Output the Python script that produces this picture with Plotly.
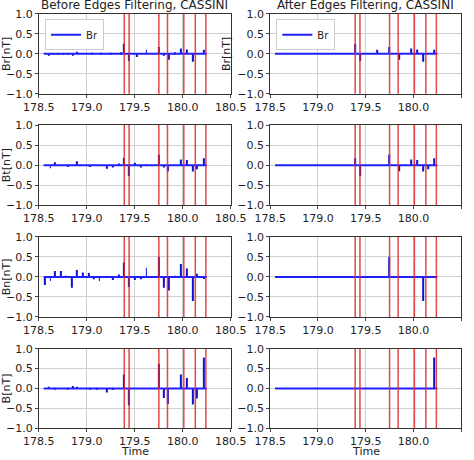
import plotly.graph_objects as go

t_start, t_end = 178.55, 180.25
edges = [179.39, 179.44, 179.75, 179.84, 180.01, 180.13, 180.24]

br_t = [178.6, 178.65, 178.7, 178.75, 178.8, 178.85, 178.9, 179.05, 179.15, 179.25, 179.35, 179.39, 179.44, 179.52, 179.62, 179.75, 179.8, 179.85, 179.92, 179.98, 180.04, 180.1, 180.22]
br_v = [-0.03, -0.02, -0.02, -0.02, -0.02, -0.04, 0.05, 0.02, 0.02, 0.02, 0.04, 0.25, -0.18, -0.08, 0.1, 0.17, -0.05, -0.15, 0.04, 0.13, 0.11, -0.2, 0.1]
bt_t = [178.62, 178.67, 178.8, 178.9, 179.03, 179.21, 179.27, 179.33, 179.39, 179.44, 179.5, 179.56, 179.62, 179.75, 179.8, 179.84, 179.98, 180.04, 180.1, 180.15, 180.22]
bt_v = [-0.08, 0.07, -0.04, 0.1, -0.04, -0.09, -0.06, 0.04, 0.18, -0.27, 0.06, -0.06, 0.03, 0.26, -0.06, -0.15, 0.14, 0.13, -0.16, -0.1, 0.17]
bn_t = [178.56, 178.62, 178.67, 178.73, 178.78, 178.84, 178.9, 178.96, 179.02, 179.07, 179.13, 179.27, 179.33, 179.39, 179.44, 179.5, 179.56, 179.62, 179.75, 179.8, 179.85, 179.92, 179.98, 180.04, 180.1, 180.15, 180.22]
bn_v = [-0.2, -0.1, 0.15, 0.15, 0.03, -0.27, 0.17, 0.11, 0.1, -0.06, -0.1, -0.08, 0.06, 0.36, -0.25, -0.08, -0.06, 0.23, 0.5, -0.27, -0.34, 0.03, 0.32, 0.21, -0.6, 0.08, -0.03]
b_t = [178.6, 178.67, 178.8, 178.85, 178.9, 179.03, 179.1, 179.21, 179.27, 179.39, 179.44, 179.75, 179.8, 179.84, 179.98, 180.04, 180.1, 180.15, 180.22]
b_v = [0.02, -0.02, -0.02, 0.06, 0.03, -0.02, -0.02, -0.1, -0.04, 0.35, -0.42, 0.62, -0.24, -0.39, 0.35, 0.26, -0.4, -0.25, 0.78]

fbr_t = [179.39, 179.44, 179.62, 179.75, 179.85, 179.98, 180.04, 180.1, 180.22]
fbr_v = [0.25, -0.18, 0.1, 0.17, -0.15, 0.13, 0.11, -0.2, 0.1]
fbt_t = [179.39, 179.44, 179.75, 179.85, 179.98, 180.04, 180.1, 180.15, 180.22]
fbt_v = [0.17, -0.27, 0.26, -0.15, 0.14, 0.13, -0.16, -0.1, 0.17]
fbn_t = [179.75, 180.1]
fbn_v = [0.5, -0.6]
fb_t = [180.22]
fb_v = [0.78]

left = [(br_t, br_v, "Br[nT]"), (bt_t, bt_v, "Bt[nT]"), (bn_t, bn_v, "Bn[nT]"), (b_t, b_v, "B[nT]")]
right = [(fbr_t, fbr_v), (fbt_t, fbt_v), (fbn_t, fbn_v), (fb_t, fb_v)]

xdom = [[0.082, 0.487], [0.570, 0.973]]
ydom = [[0.796, 0.970], [0.554, 0.728], [0.311, 0.485], [0.069, 0.242]]

fig = go.Figure()
layout = {}
shapes = []
n = 0
for r in range(4):
    for c in range(2):
        n += 1
        xa = "x" if n == 1 else f"x{n}"
        ya = "y" if n == 1 else f"y{n}"
        if c == 0:
            tt, vv, lab = left[r]
        else:
            tt, vv = right[r]
            lab = "Br[nT]" if r == 0 else ""
        leg = "legend" if c == 0 else "legend2"
        fig.add_trace(go.Scatter(x=[t_start, t_end], y=[0, 0], mode="lines",
                                 line=dict(color="#2020ff", width=2), name="Br",
                                 showlegend=(r == 0), legend=leg, xaxis=xa, yaxis=ya))
        fig.add_trace(go.Bar(x=tt, y=vv, width=0.009, marker=dict(color="#1010d0", line=dict(width=0)),
                             showlegend=False, xaxis=xa, yaxis=ya))
        for e in edges:
            shapes.append(dict(type="line", xref=xa, yref=f"{ya} domain", x0=e, x1=e, y0=0, y1=1,
                               line=dict(color="rgba(220,40,40,0.85)", width=1.5)))
        ax = dict(domain=xdom[c], range=[178.5, 180.5], dtick=0.5, tickformat=".1f", automargin=False,
                  showgrid=True, gridcolor="#d0d0d0", zeroline=False, showline=True, mirror=True,
                  linecolor="#333", ticks="outside", ticklen=3, anchor=ya,
                  tickfont=dict(size=11, color="#222"))
        ayd = dict(domain=ydom[r], range=[-1, 1], dtick=0.5, tickformat=".1f", automargin=False,
                   showgrid=True, gridcolor="#d0d0d0", zeroline=False, showline=True, mirror=True,
                   linecolor="#333", ticks="outside", ticklen=3, anchor=xa,
                   tickfont=dict(size=11, color="#222"),
                   title=dict(text=lab, font=dict(size=11), standoff=4))
        layout["xaxis" if n == 1 else f"xaxis{n}"] = ax
        layout["yaxis" if n == 1 else f"yaxis{n}"] = ayd

fig.update_layout(**layout)
fig.update_layout(
    width=474, height=460, margin=dict(l=0, r=0, t=0, b=0, autoexpand=False),
    plot_bgcolor="white", paper_bgcolor="white", barmode="overlay",
    font=dict(family="DejaVu Sans", size=11, color="#222"),
    shapes=shapes,
    legend=dict(x=0.095, y=0.958, xanchor="left", yanchor="top", bordercolor="#ccc", borderwidth=1,
                bgcolor="white", font=dict(size=10)),
    legend2=dict(x=0.583, y=0.958, xanchor="left", yanchor="top", bordercolor="#ccc", borderwidth=1,
                 bgcolor="white", font=dict(size=10)),
    annotations=[
        dict(text="Before Edges Filtering, CASSINI", x=0.2845, y=0.969, xref="paper", yref="paper",
             xanchor="center", yanchor="bottom", showarrow=False, font=dict(size=12)),
        dict(text="After Edges Filtering, CASSINI", x=0.7715, y=0.969, xref="paper", yref="paper",
             xanchor="center", yanchor="bottom", showarrow=False, font=dict(size=12)),
        dict(text="Time", x=0.2845, y=0.0, xref="paper", yref="paper",
             xanchor="center", yanchor="bottom", showarrow=False, font=dict(size=11)),
        dict(text="Time", x=0.7715, y=0.0, xref="paper", yref="paper",
             xanchor="center", yanchor="bottom", showarrow=False, font=dict(size=11)),
    ],
)
fig.write_html("out.html", config={"displayModeBar": False},
               post_script="document.body.style.margin='0';document.body.style.overflow='hidden';")
